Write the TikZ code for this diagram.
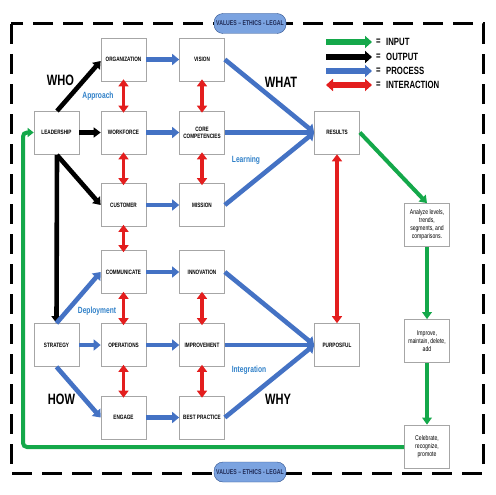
\documentclass[tikz,border=0pt]{standalone}
\usepackage{fontspec}
\setmainfont{Liberation Sans}[FakeStretch=0.74]
\usetikzlibrary{arrows.meta}
\definecolor{blu}{HTML}{4472C4}
\definecolor{bluout}{HTML}{2F528F}
\definecolor{grn}{HTML}{14A84A}
\definecolor{rd}{HTML}{E31E1E}
\definecolor{lbl}{HTML}{2F80C8}
\definecolor{pill}{HTML}{7BA3E0}
\definecolor{navy}{HTML}{1F2A55}
\tikzset{
  box/.style={draw=gray!70, line width=0.7pt, fill=white, minimum width=45pt, minimum height=43pt, inner sep=1pt, align=center, font=\fontsize{6.3}{7.2}\selectfont\bfseries},
  sbox/.style={box, font=\fontsize{6.9}{8}\selectfont},
  proc/.style={draw=blu, line width=4.6pt, -{Triangle[length=7pt,width=11pt]}},
  outp/.style={draw=black, line width=4.6pt, -{Triangle[length=7pt,width=10pt]}},
  inter/.style={draw=rd, line width=3.8pt, {Triangle[length=7pt,width=10pt]}-{Triangle[length=7pt,width=10pt]}},
  inp/.style={draw=grn, line width=4pt, -{Triangle[length=7pt,width=9.5pt]}},
  big/.style={font=\fontsize{15}{16}\selectfont\bfseries},
  blab/.style={text=lbl, font=\fontsize{9}{10}\selectfont\bfseries},
  leg/.style={font=\fontsize{10.5}{11}\selectfont\bfseries, anchor=west, inner sep=0pt},
  pillst/.style={draw=bluout, fill=pill, rounded corners=9pt, minimum width=72pt, minimum height=20pt, text=navy, font=\fontsize{7}{8}\selectfont\bfseries, inner sep=1pt}
}
\begin{document}
\begin{tikzpicture}[x=1pt,y=-1pt]
\useasboundingbox (0,0) rectangle (495,495);
% frame
\draw[line width=3pt, dash pattern=on 20pt off 10pt] (11,24) rectangle (483,473);
\node[pillst] (top) at (250,23.5) {VALUES – ETHICS - LEGAL};
\node[pillst] (bot) at (250,472) {VALUES – ETHICS - LEGAL};
% boxes
\node[box] (lead) at (56.5,132.5) {LEADERSHIP};
\node[box] (strat) at (56.5,345) {STRATEGY};
\node[box] (org) at (123.5,59.5) {ORGANIZATION};
\node[box] (work) at (123.5,132.5) {WORKFORCE};
\node[box] (cust) at (123.5,205) {CUSTOMER};
\node[box] (comm) at (123.5,272) {COMMUNICATE};
\node[box] (oper) at (123.5,345) {OPERATIONS};
\node[box] (eng) at (123.5,417.5) {ENGAGE};
\node[box] (vis) at (202,59.5) {VISION};
\node[box] (core) at (202,132.5) {CORE\\COMPETENCIES};
\node[box] (miss) at (202,205) {MISSION};
\node[box] (innov) at (202,272) {INNOVATION};
\node[box] (impr) at (202,345) {IMPROVEMENT};
\node[box] (best) at (202,417.5) {BEST PRACTICE};
\node[box] (res) at (337,132.5) {RESULTS};
\node[box] (purp) at (337,345) {PURPOSFUL};
\node[sbox] (anal) at (427,225) {Analyze levels,\\trends,\\segments, and\\comparisons.};
\node[sbox] (impv) at (427,341) {Improve,\\maintain, delete,\\add};
\node[sbox] (celeb) at (427,446.5) {Celebrate,\\recognize,\\promote};
% green return
\draw[grn, line width=4pt, rounded corners=4pt, -{Triangle[length=6pt,width=9pt]}] (celeb.west |- 0,447) -- (23,447) -- (23,132.5) -- (lead.west);
% output (black)
\coordinate (ltop) at (57,111);
\coordinate (lbot) at (57,155);
\draw[outp] (ltop) -- (org.west |- 0,61);
\draw[outp] (lead.east) -- (work.west);
\draw[outp] (lbot) -- (cust.west);
\draw[outp] (lbot) -- (strat.north);
% process (blue)
\draw[proc] (org.east) -- (vis.west);
\draw[proc] (work.east) -- (core.west);
\draw[proc] (cust.east) -- (miss.west);
\draw[proc] (comm.east) -- (innov.west);
\draw[proc] (oper.east) -- (impr.west);
\draw[proc] (eng.east) -- (best.west);
\draw[proc] (strat.east) -- (oper.west);
\draw[proc] (strat.north) -- (comm.west);
\draw[proc] (strat.south) -- (eng.west);
\draw[proc] (vis.east) -- (res.west);
\draw[proc] (core.east) -- (res.west);
\draw[proc] (miss.east) -- (res.west);
\draw[proc] (innov.east) -- (purp.west);
\draw[proc] (impr.east) -- (purp.west);
\draw[proc] (best.east) -- (purp.west);
% interaction (red)
\draw[inter] ([yshift=2pt]org.south) -- ([yshift=-2pt]work.north);
\draw[inter] ([yshift=2pt]work.south) -- ([yshift=-2pt]cust.north);
\draw[inter] ([yshift=2pt]cust.south) -- ([yshift=-2pt]comm.north);
\draw[inter] ([yshift=2pt]comm.south) -- ([yshift=-2pt]oper.north);
\draw[inter] ([yshift=2pt]oper.south) -- ([yshift=-2pt]eng.north);
\draw[inter] ([yshift=2pt]vis.south) -- ([yshift=-2pt]core.north);
\draw[inter] ([yshift=2pt]core.south) -- ([yshift=-2pt]miss.north);
\draw[inter] ([yshift=2pt]innov.south) -- ([yshift=-2pt]impr.north);
\draw[inter] ([yshift=2pt]impr.south) -- ([yshift=-2pt]best.north);
\draw[inter] (res.south) -- (purp.north);
% input (green)
\draw[inp] (res.east) -- (anal.north);
\draw[inp] (anal.south) -- (impv.north);
\draw[inp] (impv.south) -- (celeb.north);
% labels
\node[big] (who) at (60.5,80) {WHO};
\node[big] (what) at (281,82) {WHAT};
\node[big] (how) at (61.5,399) {HOW};
\node[big] (why) at (278,399) {WHY};
\node[blab] (appr) at (98,96) {Approach};
\node[blab] (learn) at (246,160) {Learning};
\node[blab] (depl) at (97,311) {Deployment};
\node[blab] (integ) at (249,370) {Integration};
% legend
\coordinate (g1) at (326,42); \coordinate (g2) at (372,42);
\coordinate (k1) at (326,57); \coordinate (k2) at (372,57);
\coordinate (b1) at (326,71); \coordinate (b2) at (372,71);
\coordinate (r1) at (326,85); \coordinate (r2) at (372,85);
\draw[grn, line width=5.5pt, -{Triangle[length=7pt,width=12pt]}] (g1) -- (g2);
\draw[black, line width=5.5pt, -{Triangle[length=7pt,width=12pt]}] (k1) -- (k2);
\draw[blu, line width=5.5pt, -{Triangle[length=7pt,width=12pt]}] (b1) -- (b2);
\draw[rd, line width=5.5pt, {Triangle[length=7pt,width=12pt]}-{Triangle[length=7pt,width=12pt]}] (r1) -- (r2);
\node[leg] (e1) at (376,42) {=}; \node[leg] (l1) at (386,42) {INPUT};
\node[leg] (e2) at (376,57) {=}; \node[leg] (l2) at (386,57) {OUTPUT};
\node[leg] (e3) at (376,71) {=}; \node[leg] (l3) at (386,71) {PROCESS};
\node[leg] (e4) at (376,85) {=}; \node[leg] (l4) at (386,85) {INTERACTION};
\end{tikzpicture}
\end{document}
